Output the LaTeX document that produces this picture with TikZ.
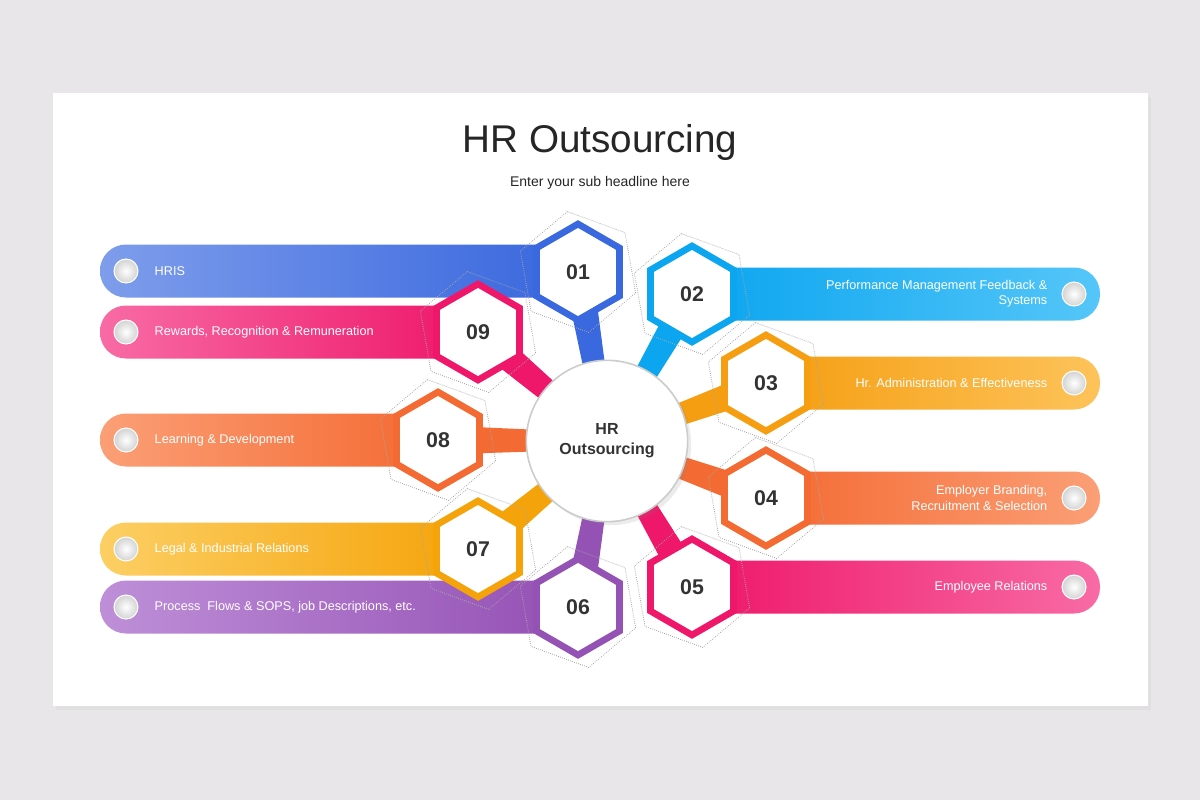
\documentclass[tikz,border=0pt]{standalone}
\usepackage{fontspec}
\setmainfont{Liberation Sans}
\usetikzlibrary{shapes.geometric,calc,shadows}
\definecolor{bg}{HTML}{E8E6E8}
\definecolor{cA}{HTML}{3A68DE}\definecolor{lA}{HTML}{7E9DEB}
\definecolor{cB}{HTML}{0BA5F0}\definecolor{lB}{HTML}{55C6F8}
\definecolor{cC}{HTML}{F59E12}\definecolor{lC}{HTML}{FDC35A}
\definecolor{cD}{HTML}{F46A33}\definecolor{lD}{HTML}{FB9F76}
\definecolor{cE}{HTML}{EE1769}\definecolor{lE}{HTML}{F86BA5}
\definecolor{cF}{HTML}{F5A30A}\definecolor{lF}{HTML}{FCCF64}
\definecolor{cG}{HTML}{9552B5}\definecolor{lG}{HTML}{BE8FD8}
\definecolor{txt}{HTML}{333333}
\tikzset{
 hexo/.style={regular polygon,regular polygon sides=6,shape border rotate=30,minimum size=72pt,inner sep=0pt,line width=5pt,fill=white},
 hexd/.style={regular polygon,regular polygon sides=6,shape border rotate=40,minimum size=92pt,draw=gray!70,densely dotted,line width=0.6pt},
 num/.style={font=\bfseries\fontsize{16}{16}\selectfont,text=txt},
 lab/.style={font=\fontsize{9.5}{11.5}\selectfont,text=white},
 dot/.style={circle,minimum size=18pt,inner sep=0pt,draw=white,line width=0.8pt,inner color=white,outer color=gray!35},
}
\newcommand{\leftitem}[7]{% name,y,hexx,unused,col,light,text
 \shade[left color=#6,right color=#5,rounded corners=19.5pt] (100,#2-26.5) rectangle (#3,#2+26.5);
 \node[dot] (d#1) at (126,#2) {};
 \node[lab,anchor=west] (t#1) at (150,#2) {#7};
}
\newcommand{\rightitem}[7]{%
 \shade[left color=#5,right color=#6,rounded corners=19.5pt] (#3,#2-26.5) rectangle (1100,#2+26.5);
 \node[dot] (d#1) at (1074,#2) {};
 \node[lab,anchor=east,align=right] (t#1) at (1052,#2) {#7};
}
\newcommand{\spoke}[2]{%
 \fill[#2] ($(h#1)!11pt!90:(c)$) -- ($(c)!6pt!-90:(h#1)$) -- ($(c)!6pt!90:(h#1)$) -- ($(h#1)!11pt!-90:(c)$) -- cycle;
}
\newcommand{\hexitem}[3]{%
 \node[hexd] at (h#1) {};
 \node[hexo,draw=#2] at (h#1) {};
 \node[num] (n#1) at (h#1) {#3};
}
\begin{document}
\begin{tikzpicture}[x=0.75pt,y=-0.75pt]
\useasboundingbox (0,0) rectangle (1200,800);
\fill[bg] (0,0) rectangle (1200,800);
\fill[black!12] (56,97) rectangle (1151,710);
\fill[white] (53,93) rectangle (1148,706);
\node[font=\fontsize{29}{30}\selectfont,text=black!85] (title) at (600,142) {HR Outsourcing};
\node[font=\fontsize{10.5}{12}\selectfont,text=black!85] (sub) at (600,183) {Enter your sub headline here};
\coordinate (c) at (607,441);
\coordinate (h1) at (578,272);\coordinate (h2) at (692,294);\coordinate (h3) at (766,383);
\coordinate (h4) at (766,498);\coordinate (h5) at (692,587);\coordinate (h6) at (578,607);
\coordinate (h7) at (478,549);\coordinate (h8) at (438,440);\coordinate (h9) at (478,332);
\leftitem{1}{271}{560}{}{cA}{lA}{HRIS}
\leftitem{9}{332}{470}{}{cE}{lE}{Rewards, Recognition \& Remuneration}
\leftitem{8}{440}{430}{}{cD}{lD}{Learning \& Development}
\leftitem{7}{549}{470}{}{cF}{lF}{Legal \& Industrial Relations}
\leftitem{6}{607}{560}{}{cG}{lG}{Process\ \ Flows \& SOPS, job Descriptions, etc.}
\rightitem{2}{294}{700}{}{cB}{lB}{Performance Management Feedback \&\\Systems}
\rightitem{3}{383}{770}{}{cC}{lC}{Hr. Administration \& Effectiveness}
\rightitem{4}{498}{770}{}{cD}{lD}{Employer Branding,\\Recruitment \& Selection}
\rightitem{5}{587}{700}{}{cE}{lE}{Employee Relations}
\spoke{1}{cA}\spoke{2}{cB}\spoke{3}{cC}\spoke{4}{cD}\spoke{5}{cE}
\spoke{6}{cG}\spoke{7}{cF}\spoke{8}{cD}\spoke{9}{cE}
\node[circle,minimum size=121pt,fill=white,draw=gray!40,line width=1.2pt,drop shadow={opacity=0.15}] (center) at (c) {};
\node[font=\bfseries\fontsize{12}{15}\selectfont,text=txt,align=center] (ctext) at (c) {HR\\Outsourcing};
\hexitem{1}{cA}{01}\hexitem{2}{cB}{02}\hexitem{3}{cC}{03}
\hexitem{4}{cD}{04}\hexitem{5}{cE}{05}\hexitem{6}{cG}{06}
\hexitem{7}{cF}{07}\hexitem{8}{cD}{08}\hexitem{9}{cE}{09}
\end{tikzpicture}
\end{document}
